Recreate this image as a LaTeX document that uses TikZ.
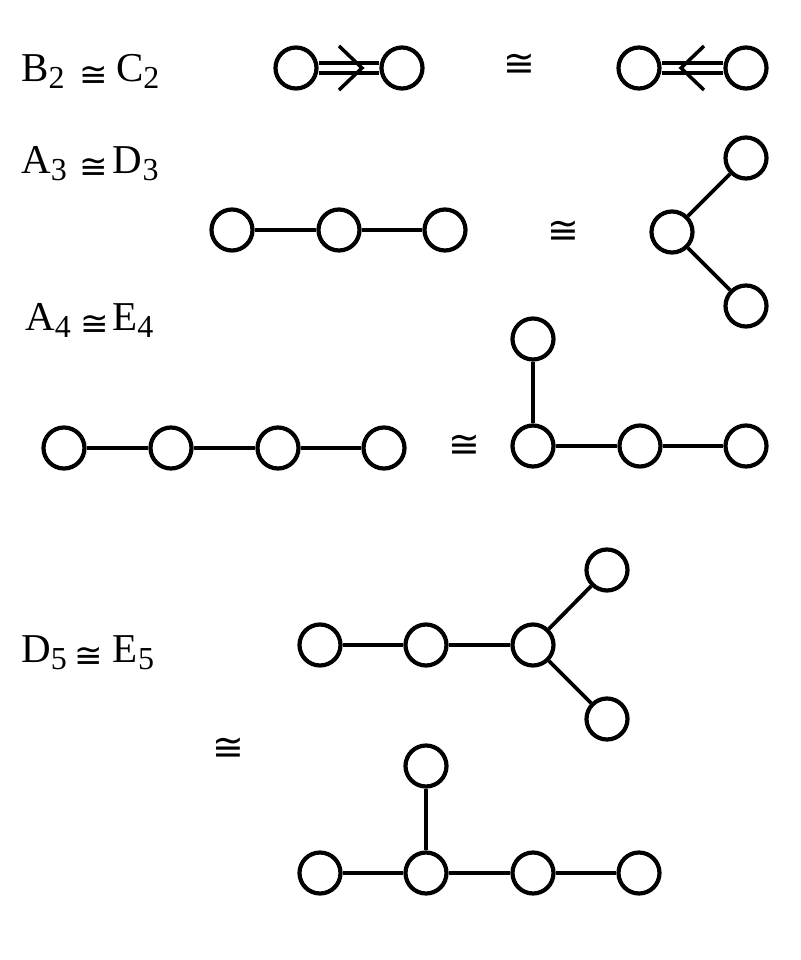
\documentclass[tikz,border=0pt]{standalone}
\usepackage{fontspec}
\setmainfont{Liberation Serif}
\newfontfamily\isofont{DejaVu Sans}
\newcommand{\lowered}[1]{\raisebox{-7pt}{\fontsize{32}{32}\selectfont #1}}
\newcommand{\smalliso}{\raisebox{-5pt}{\isofont\fontsize{34}{34}\selectfont ≅}}
\begin{document}
\begin{tikzpicture}[x=1pt, y=-1pt,
    vertex/.style={circle, draw=black, line width=4.2pt, minimum size=41pt, inner sep=0pt},
    bond/.style={line width=3.2pt},
    rootname/.style={inner sep=0pt, anchor=base west, font=\fontsize{41}{41}\selectfont},
    bigiso/.style={inner sep=0pt, font=\isofont\fontsize{38}{38}\selectfont}]
                \useasboundingbox (0,0) rectangle (800,960);

                % labels
                \node [rootname] (LB) at (21,82) {B\lowered{2}\hspace{15pt}\smalliso\hspace{8pt}C\lowered{2}};
                \node [rootname] (LA) at (21,174) {A\lowered{3}\hspace{12.7pt}\smalliso\hspace{5pt}D\lowered{3}};
                \node [rootname] (LE) at (25,330) {A\lowered{4}\hspace{9.5pt}\smalliso\hspace{3.5pt}E\lowered{4}};
                \node [rootname] (LD) at (21,662) {D\lowered{5}\hspace{7.7pt}\smalliso\hspace{10pt}E\lowered{5}};

                % B2 = C2
                \node [vertex] (BA) at (296,68) {};
                \node [vertex] (BB) at (402,68) {};
                \draw [line width=3.5pt] ([yshift=5pt]BA.east) -- ([yshift=5pt]BB.west);
                \draw [line width=3.5pt] ([yshift=-5pt]BA.east) -- ([yshift=-5pt]BB.west);
                \coordinate (BT) at (362,68);
                \draw [line width=3.5pt] ([shift={(-23,-22)}]BT) -- (BT) -- ([shift={(-23,22)}]BT);
                \node [bigiso] (I1) at (519,65) {≅};
                \node [vertex] (CA) at (639,68) {};
                \node [vertex] (CB) at (746,68) {};
                \draw [line width=3.5pt] ([yshift=5pt]CA.east) -- ([yshift=5pt]CB.west);
                \draw [line width=3.5pt] ([yshift=-5pt]CA.east) -- ([yshift=-5pt]CB.west);
                \coordinate (CT) at (681,68);
                \draw [line width=3.5pt] ([shift={(23,-22)}]CT) -- (CT) -- ([shift={(23,22)}]CT);

                % A3 = D3
                \node [vertex] (AA) at (232,230) {};
                \node [vertex] (AB) at (339,230) {};
                \node [vertex] (AC) at (445,230) {};
                \draw [bond] (AA) -- (AB) -- (AC);
                \node [bigiso] (I2) at (563,232) {≅};
                \node [vertex] (DA) at (672,232) {};
                \node [vertex] (DB) at (746,158) {};
                \node [vertex] (DC) at (746,306) {};
                \draw [bond, line width=3.8pt] (DA) -- (DB);
                \draw [bond, line width=3.8pt] (DA) -- (DC);

                % A4 = E4
                \node [vertex] (FA) at (64,448) {};
                \node [vertex] (FB) at (171,448) {};
                \node [vertex] (FC) at (278,448) {};
                \node [vertex] (FD) at (384,448) {};
                \draw [bond] (FA) -- (FB) -- (FC) -- (FD);
                \node [bigiso] (I3) at (464,446) {≅};
                \node [vertex] (EA) at (533,446) {};
                \node [vertex] (EB) at (640,446) {};
                \node [vertex] (EC) at (746,446) {};
                \node [vertex] (ED) at (533,339) {};
                \draw [bond] (EA) -- (EB) -- (EC);
                \draw [bond, line width=3.8pt] (EA) -- (ED);

                % D5 = E5
                \node [vertex] (GA) at (320,645) {};
                \node [vertex] (GB) at (426,645) {};
                \node [vertex] (GC) at (533,645) {};
                \node [vertex] (GD) at (607,570) {};
                \node [vertex] (GE) at (607,719) {};
                \draw [bond] (GA) -- (GB) -- (GC);
                \draw [bond, line width=3.8pt] (GC) -- (GD);
                \draw [bond, line width=3.8pt] (GC) -- (GE);
                \node [bigiso] (I4) at (228,749) {≅};
                \node [vertex] (HA) at (320,873) {};
                \node [vertex] (HB) at (426,873) {};
                \node [vertex] (HC) at (533,873) {};
                \node [vertex] (HD) at (639,873) {};
                \node [vertex] (HE) at (426,766) {};
                \draw [bond] (HA) -- (HB) -- (HC) -- (HD);
                \draw [bond, line width=3.8pt] (HB) -- (HE);
            \end{tikzpicture}
\end{document}
